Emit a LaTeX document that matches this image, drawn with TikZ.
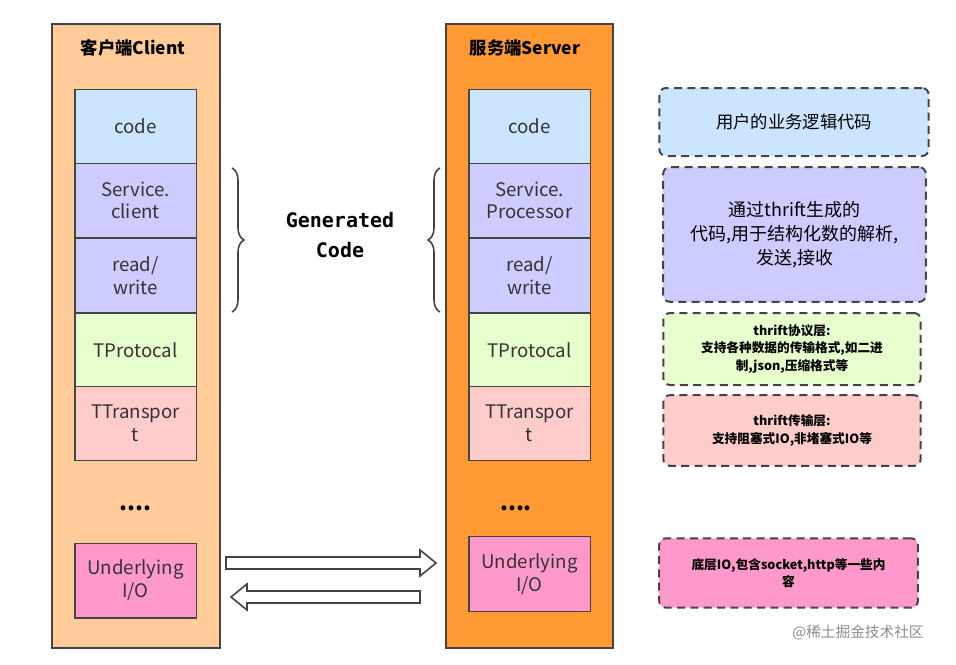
\documentclass[tikz,border=0pt]{standalone}
\usepackage{fontspec}
\setmainfont{Noto Sans CJK SC}
\newfontfamily\monof{DejaVu Sans Mono}
\usetikzlibrary{decorations.pathreplacing}
\definecolor{peach}{HTML}{FFCC99}
\definecolor{orng}{HTML}{FF9933}
\definecolor{lblue}{HTML}{CCE5FF}
\definecolor{lav}{HTML}{CCCCFF}
\definecolor{lgreen}{HTML}{E6FFCC}
\definecolor{lpink}{HTML}{FFCCCC}
\definecolor{mpink}{HTML}{FF99CC}
\definecolor{edge}{HTML}{444444}
\begin{document}
\begin{tikzpicture}[x=0.75pt,y=-0.75pt,
  col/.style={draw=edge,line width=1.2pt},
  lay/.style={draw=edge,line width=1pt,minimum width=91pt,minimum height=55.5pt,align=center,font=\fontsize{14}{17}\selectfont,text=black!80,inner sep=1pt},
  note/.style={draw=edge,line width=1.5pt,dash pattern=on 6pt off 4pt,rounded corners=5pt,align=center,inner sep=2pt},
  harrow/.style={draw=edge,line width=1.2pt,fill=white}]
\useasboundingbox (0,0) rectangle (956,664);
% client
\path[col,fill=peach] (52,24) rectangle (220,648);
\node[font=\bfseries\fontsize{13}{15}\selectfont] (ct) at (133,48) {客户端Client};
\node[lay,fill=lblue] (c1) at (135.5,126.5) {code};
\node[lay,fill=lav,minimum height=56pt] (c2) at (135.5,200.5) {Service.\\client};
\node[lay,fill=lav,minimum height=56pt] (c3) at (135.5,275.5) {read/\\write};
\node[lay,fill=lgreen] (c4) at (135.5,350) {TProtocal};
\node[lay,fill=lpink] (c5) at (135.5,423.5) {TTranspor\\t};
\node[font=\bfseries\fontsize{17}{15}\selectfont] (cd) at (135.5,508) {....};
\node[lay,fill=mpink,minimum height=56pt] (c6) at (135.5,580.5) {Underlying\\I/O};
% server
\path[col,fill=orng] (446,24) rectangle (613,648);
\node[font=\bfseries\fontsize{13}{15}\selectfont] (st) at (525,48) {服务端Server};
\node[lay,fill=lblue] (s1) at (529.5,126.5) {code};
\node[lay,fill=lav,minimum height=56pt] (s2) at (529.5,200.5) {Service.\\Processor};
\node[lay,fill=lav,minimum height=56pt] (s3) at (529.5,275.5) {read/\\write};
\node[lay,fill=lgreen] (s4) at (529.5,350) {TProtocal};
\node[lay,fill=lpink] (s5) at (529.5,423.5) {TTranspor\\t};
\node[font=\bfseries\fontsize{17}{15}\selectfont] (sd) at (516,508) {....};
\node[lay,fill=mpink,minimum height=56pt] (s6) at (529.5,574) {Underlying\\I/O};
% braces
\draw[edge,line width=1.2pt,decorate,decoration={brace,amplitude=9pt}] (232,168) -- (232,312);
\draw[edge,line width=1.2pt,decorate,decoration={brace,amplitude=9pt}] (440,312) -- (440,168);
\node[font=\monof\bfseries\fontsize{15}{22}\selectfont,align=center] (gc) at (340,235) {Generated\\Code};
% arrows
\path[harrow] (226,557) -- (420,557) -- (420,550) -- (436,563) -- (420,576) -- (420,569) -- (226,569) -- cycle;
\path[harrow] (420,591) -- (247,591) -- (247,584) -- (231,597) -- (247,610) -- (247,603) -- (420,603) -- cycle;
% notes
\node[note,fill=lblue,minimum width=202pt,minimum height=51pt,font=\fontsize{13}{15}\selectfont] (n1) at (794,122) {用户的业务逻辑代码};
\node[note,fill=lav,minimum width=197pt,minimum height=101pt,font=\fontsize{13.5}{18}\selectfont] (n2) at (794.5,234.5) {通过thrift生成的\\代码,用于结构化数的解析,\\发送,接收};
\node[note,fill=lgreen,minimum width=193pt,minimum height=54pt,font=\bfseries\fontsize{9.5}{13}\selectfont] (n3) at (792,349) {thrift协议层:\\支持各种数据的传输格式,如二进\\制,json,压缩格式等};
\node[note,fill=lpink,minimum width=193pt,minimum height=53pt,font=\bfseries\fontsize{9.5}{13}\selectfont] (n4) at (792,430.5) {thrift传输层:\\支持阻塞式IO,非堵塞式IO等};
\node[note,fill=mpink,minimum width=194pt,minimum height=52pt,font=\bfseries\fontsize{9.5}{13}\selectfont] (n5) at (788.5,573) {底层IO,包含socket,http等一些内\\容};
\node[text=black!45,font=\fontsize{11}{13}\selectfont] (wm) at (858,633) {@稀土掘金技术社区};
\end{tikzpicture}
\end{document}
